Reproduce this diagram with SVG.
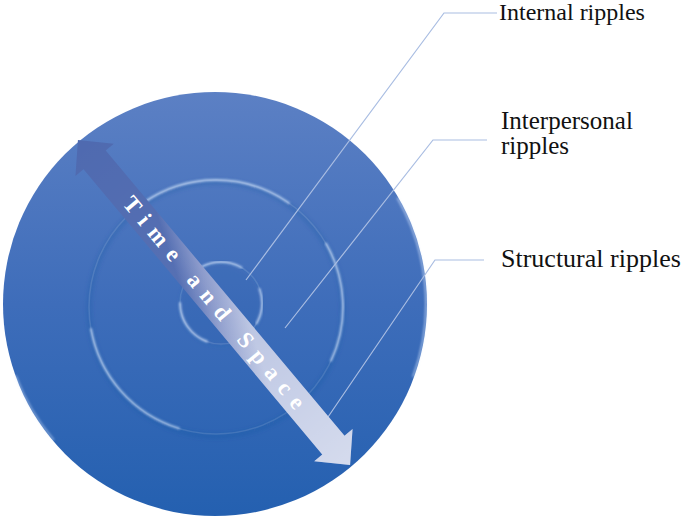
<svg xmlns="http://www.w3.org/2000/svg" width="685" height="518" viewBox="0 0 685 518">
  <defs>
    <linearGradient id="discFill" x1="0" y1="0" x2="0" y2="1">
      <stop offset="0" stop-color="#5c80c4"/>
      <stop offset="0.5" stop-color="#3e6dba"/>
      <stop offset="1" stop-color="#2460b0"/>
    </linearGradient>
    <linearGradient id="arrowFill" gradientUnits="userSpaceOnUse" x1="-10" y1="25" x2="10" y2="-25">
      <stop offset="0" stop-color="#4f6ab0"/>
      <stop offset="0.45" stop-color="#8696c9"/>
      <stop offset="1" stop-color="#b3bedf"/>
    </linearGradient>
    <linearGradient id="arrowSheen" gradientUnits="userSpaceOnUse" x1="-212" y1="0" x2="212" y2="0">
      <stop offset="0" stop-color="#ffffff" stop-opacity="0"/>
      <stop offset="0.5" stop-color="#ffffff" stop-opacity="0.05"/>
      <stop offset="1" stop-color="#ffffff" stop-opacity="0.45"/>
    </linearGradient>
    <filter id="soft" x="-10%" y="-10%" width="120%" height="120%">
      <feGaussianBlur stdDeviation="0.9"/>
    </filter>
    <filter id="shadow" x="-10%" y="-10%" width="120%" height="120%">
      <feGaussianBlur stdDeviation="2.5"/>
    </filter>
  </defs>
  <style>
    .ring { fill: none; stroke: #ffffff; stroke-opacity: 0.12; stroke-width: 1.5; }
    .hl { fill: none; stroke: #dbe9ff; stroke-width: 2; stroke-linecap: round; filter: url(#soft); }
    .groove { fill: none; stroke: #1d4c99; stroke-opacity: 0.35; stroke-width: 3; filter: url(#shadow); }
    .leader { fill: none; stroke: #a9bde2; stroke-width: 1.2; }
    .label { font-family: "Liberation Serif", "Times New Roman", serif; fill: #111111; }
    .axis { font-family: "Liberation Serif", "Times New Roman", serif; font-weight: bold; font-size: 23px; fill: #ffffff; letter-spacing: 8.7px; }
  </style>

  <g id="disc">
    <circle cx="215" cy="304" r="212" fill="url(#discFill)"/>
    <path class="hl" d="M 397.7 198.5 A 211 211 0 0 1 413.3 376.2" stroke-opacity="0.55"/>
    <path class="hl" d="M 53.4 439.6 A 211 211 0 0 1 15.8 376.2" stroke-opacity="0.45"/>
  </g>

  <g id="ring-structural">
    <circle class="groove" cx="216" cy="309" r="127"/>
    <circle class="ring" cx="216" cy="307" r="127"/>
    <path class="hl" d="M 143.1 203 A 127 127 0 0 1 288.9 203" stroke-opacity="0.75"/>
    <path class="hl" d="M 326 243.5 A 127 127 0 0 1 331 360.7" stroke-opacity="0.7"/>
    <path class="hl" d="M 179 428.4 A 127 127 0 0 1 91 329" stroke-opacity="0.7"/>
  </g>

  <g id="ring-internal">
    <circle cx="221" cy="305" r="41" fill="#1f56a8" fill-opacity="0.18" filter="url(#shadow)"/>
    <circle class="ring" cx="221" cy="303" r="41"/>
    <path class="hl" d="M 200.5 267.5 A 41 41 0 0 1 241.5 267.5" stroke-opacity="0.75"/>
    <path class="hl" d="M 259.5 289 A 41 41 0 0 1 256.5 323.5" stroke-opacity="0.7"/>
    <path class="hl" d="M 207 341.5 A 41 41 0 0 1 180 303" stroke-opacity="0.75"/>
  </g>

  <g id="connectors">
    <polyline class="leader" points="246,280 444,13 497,13"/>
    <polyline class="leader" points="285,328 433,140 487,140"/>
    <polyline class="leader" points="328,417 435,260 484,260"/>
  </g>

  <g id="time-space-arrow" transform="translate(214 302.5) rotate(50.07)">
    <path d="M -212 0 L -186 -25 L -186 -14.5 L 186 -14.5 L 186 -25 L 212 0 L 186 25 L 186 14.5 L -186 14.5 L -186 25 Z" fill="url(#arrowFill)"/>
    <path d="M -212 0 L -186 -25 L -186 -14.5 L 186 -14.5 L 186 -25 L 212 0 L 186 25 L 186 14.5 L -186 14.5 L -186 25 Z" fill="url(#arrowSheen)"/>
    <text class="axis" x="4.4" y="7.5" text-anchor="middle">Time and Space</text>
  </g>

  <g id="label-internal">
    <text class="label" x="499" y="20" font-size="24">Internal ripples</text>
  </g>
  <g id="label-interpersonal">
    <text class="label" x="501" y="129" font-size="25">Interpersonal</text>
    <text class="label" x="501" y="154" font-size="25">ripples</text>
  </g>
  <g id="label-structural">
    <text class="label" x="501" y="267" font-size="26">Structural ripples</text>
  </g>
</svg>
